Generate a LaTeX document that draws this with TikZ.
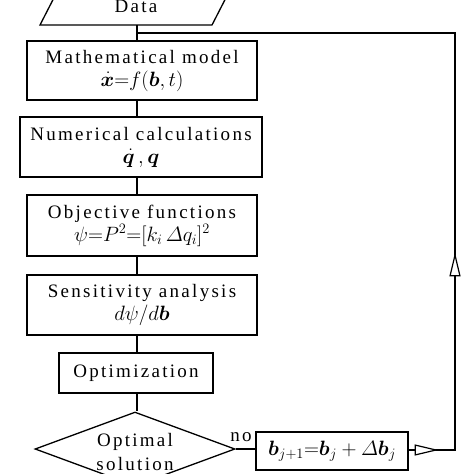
\documentclass[tikz,border=0pt]{standalone}
\usepackage{amsmath}
\usepackage{fontspec}
\setmainfont[LetterSpace=12]{Liberation Serif}
\usepackage{bm}
\usetikzlibrary{arrows.meta,shapes.geometric,decorations.markings}
\newcommand{\mline}[1]{{\fontsize{20.5}{23}\selectfont$#1$}}
\tikzset{
  box/.style={draw, line width=1.3pt, align=center, inner sep=0pt, font=\fontsize{19}{23}\selectfont},
  lab/.style={inner sep=0pt, font=\fontsize{19}{23}\selectfont, align=center},
  conn/.style={line width=1.2pt},
  tri/.tip={Triangle[open, fill=white, length=24pt, width=11pt, line width=1.2pt]}
}
\begin{document}
\begin{tikzpicture}[x=1pt,y=-1pt]
\useasboundingbox (0,0) rectangle (474,474);
\fill[white] (0,0) rectangle (474,474);
\coordinate (spine) at (137,0);
% Data parallelogram
\draw[line width=1.3pt] (40,25) -- (212,25) -- (231,-12) -- (59,-12) -- cycle;
\node[lab, anchor=base] (data) at (136,12) {Data};
\coordinate (datab) at (137,25);
\coordinate (j) at (137,33);
% boxes
\node[box, minimum width=230pt, minimum height=59pt] (mm) at (142,70.5)
  {Mathematical model\\\mline{\dot{\bm x}{=}f(\bm b,t)}};
\node[box, minimum width=242pt, minimum height=60pt] (num) at (141,147)
  {Numerical calculations\\\mline{\dot{\bm q}\,,\bm q}};
\node[box, minimum width=230pt, minimum height=61pt] (obj) at (142,225.5)
  {Objective functions\\\mline{\psi{=}P^2{=}[k_i\,\varDelta q_i]^2}};
\node[box, minimum width=230pt, minimum height=60pt] (sens) at (142,305)
  {Sensitivity analysis\\\mline{d\psi/d\bm b}};
\node[box, minimum width=154pt, minimum height=40pt] (opt) at (136,373)
  {Optimization};
\node[draw, line width=1.3pt, diamond, minimum width=200pt, minimum height=74pt, inner sep=0pt] (dec) at (135,449) {};
\node[lab, anchor=base] (decl1) at (135,446) {Optimal};
\node[lab, anchor=base] (decl2) at (135,470) {solution};
\node[box, minimum width=152pt, minimum height=38pt] (upd) at (332,451)
  {\mline{\bm b_{j+1}{=}\bm b_j+\varDelta\bm b_j}};
\node[lab, anchor=base] (no) at (241,441) {no};
% connectors
\draw[conn] (datab) -- (mm.north -| spine);
\draw[conn] (mm.south -| spine) -- (num.north -| spine);
\draw[conn] (num.south -| spine) -- (obj.north -| spine);
\draw[conn] (obj.south -| spine) -- (sens.north -| spine);
\draw[conn] (sens.south -| spine) -- (opt.north -| spine);
\draw[conn] (opt.south -| spine) -- (dec.north -| spine);
\draw[conn] (dec.east) -- (dec.east -| upd.west);
\coordinate (c1) at (455,450);
\coordinate (c2) at (455,33);
\draw[conn, postaction={decorate}, decoration={markings,
    mark=at position 30pt with {\arrow{tri}},
    mark=at position 244pt with {\arrow{tri}}}]
  (upd.east |- c1) -- (c1) -- (c2) -- (j);
\end{tikzpicture}
\end{document}
